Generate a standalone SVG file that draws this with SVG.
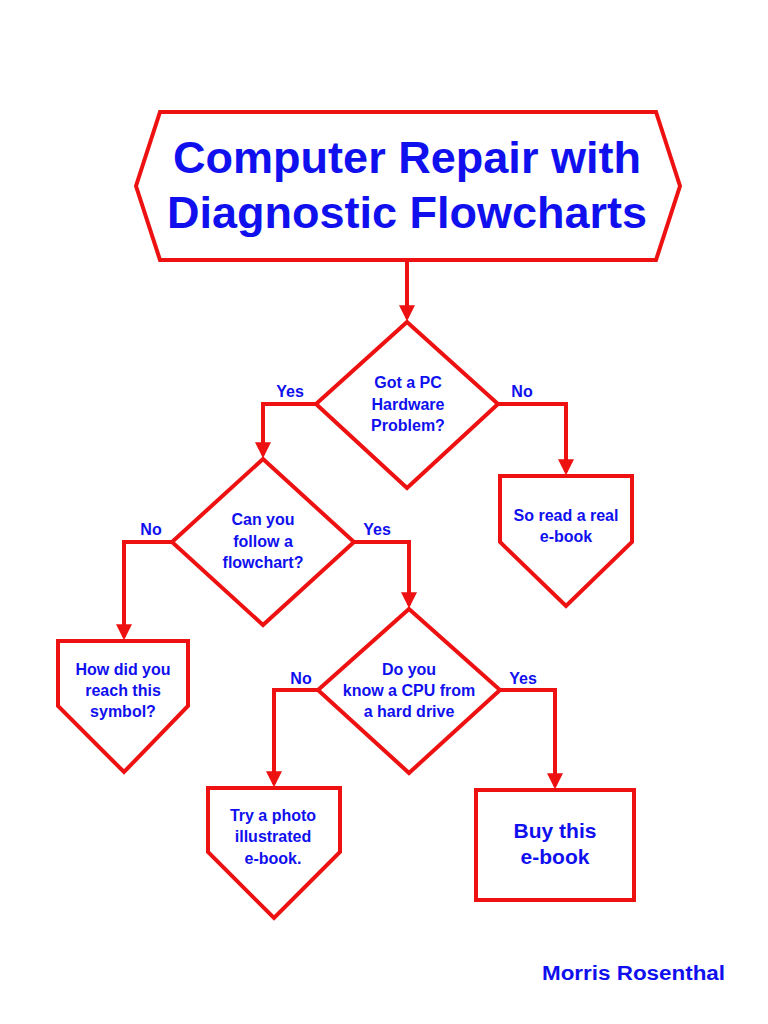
<svg xmlns="http://www.w3.org/2000/svg" width="768" height="1024" viewBox="0 0 768 1024">
<style>
.s{fill:#fff;stroke:#ee1111;stroke-width:4;stroke-linejoin:miter}
.c{fill:none;stroke:#ee1111;stroke-width:4}
text{font-family:"Liberation Sans",Arial,sans-serif;font-weight:bold;fill:#1010ee;text-anchor:middle}
.t{font-size:16px}
</style>
<defs><marker id="a" viewBox="0 0 10 10" refX="8" refY="5" markerWidth="4" markerHeight="4" orient="auto" markerUnits="strokeWidth"><path d="M0,0L10,5L0,10z" fill="#ee1111"/></marker></defs>
<rect width="768" height="1024" fill="#fff"/>
<g id="connectors">
<path class="c" d="M407,262V318" marker-end="url(#a)"/>
<path class="c" d="M316,404H263V455" marker-end="url(#a)"/>
<path class="c" d="M498,404H566V472" marker-end="url(#a)"/>
<path class="c" d="M172,542H124V637" marker-end="url(#a)"/>
<path class="c" d="M354,542H409V605" marker-end="url(#a)"/>
<path class="c" d="M318,690H274V784" marker-end="url(#a)"/>
<path class="c" d="M500,690H555V786" marker-end="url(#a)"/>
<text class="t" x="290" y="397">Yes</text>
<text class="t" x="522" y="397">No</text>
<text class="t" x="151" y="535">No</text>
<text class="t" x="377" y="535">Yes</text>
<text class="t" x="301" y="684">No</text>
<text class="t" x="523" y="684">Yes</text>
</g>
<g id="title"><polygon class="s" points="160,112 656,112 680,186 656,260 160,260 136,186"/>
<text x="407" y="173" font-size="44" textLength="468" lengthAdjust="spacingAndGlyphs">Computer Repair with</text>
<text x="407" y="228" font-size="44" textLength="480" lengthAdjust="spacingAndGlyphs">Diagnostic Flowcharts</text></g>
<g id="d1"><polygon class="s" points="407,322 498,404 407,488 316,404"/>
<text class="t" x="408" y="388">Got a PC</text><text class="t" x="408" y="410">Hardware</text><text class="t" x="408" y="431">Problem?</text></g>
<g id="p1"><polygon class="s" points="500,476 632,476 632,542 566,606 500,542"/>
<text class="t" x="566" y="521">So read a real</text><text class="t" x="566" y="542">e-book</text></g>
<g id="d2"><polygon class="s" points="263,459 354,542 263,625 172,542"/>
<text class="t" x="263" y="525">Can you</text><text class="t" x="263" y="547">follow a</text><text class="t" x="263" y="568">flowchart?</text></g>
<g id="p2"><polygon class="s" points="58,641 188,641 188,706 124,772 58,706"/>
<text class="t" x="123" y="675">How did you</text><text class="t" x="123" y="696">reach this</text><text class="t" x="123" y="717">symbol?</text></g>
<g id="d3"><polygon class="s" points="409,609 500,690 409,773 318,690"/>
<text class="t" x="409" y="675">Do you</text><text class="t" x="409" y="696">know a CPU from</text><text class="t" x="409" y="717">a hard drive</text></g>
<g id="p3"><polygon class="s" points="208,788 340,788 340,852 274,918 208,852"/>
<text class="t" x="273" y="821">Try a photo</text><text class="t" x="273" y="842">illustrated</text><text class="t" x="273" y="864">e-book.</text></g>
<g id="r1"><rect class="s" x="476" y="790" width="158" height="110"/>
<text x="555" y="838" font-size="21">Buy this</text><text x="555" y="864" font-size="21">e-book</text></g>
<text x="725" y="980" font-size="20" style="text-anchor:end" textLength="183" lengthAdjust="spacingAndGlyphs">Morris Rosenthal</text>
</svg>
